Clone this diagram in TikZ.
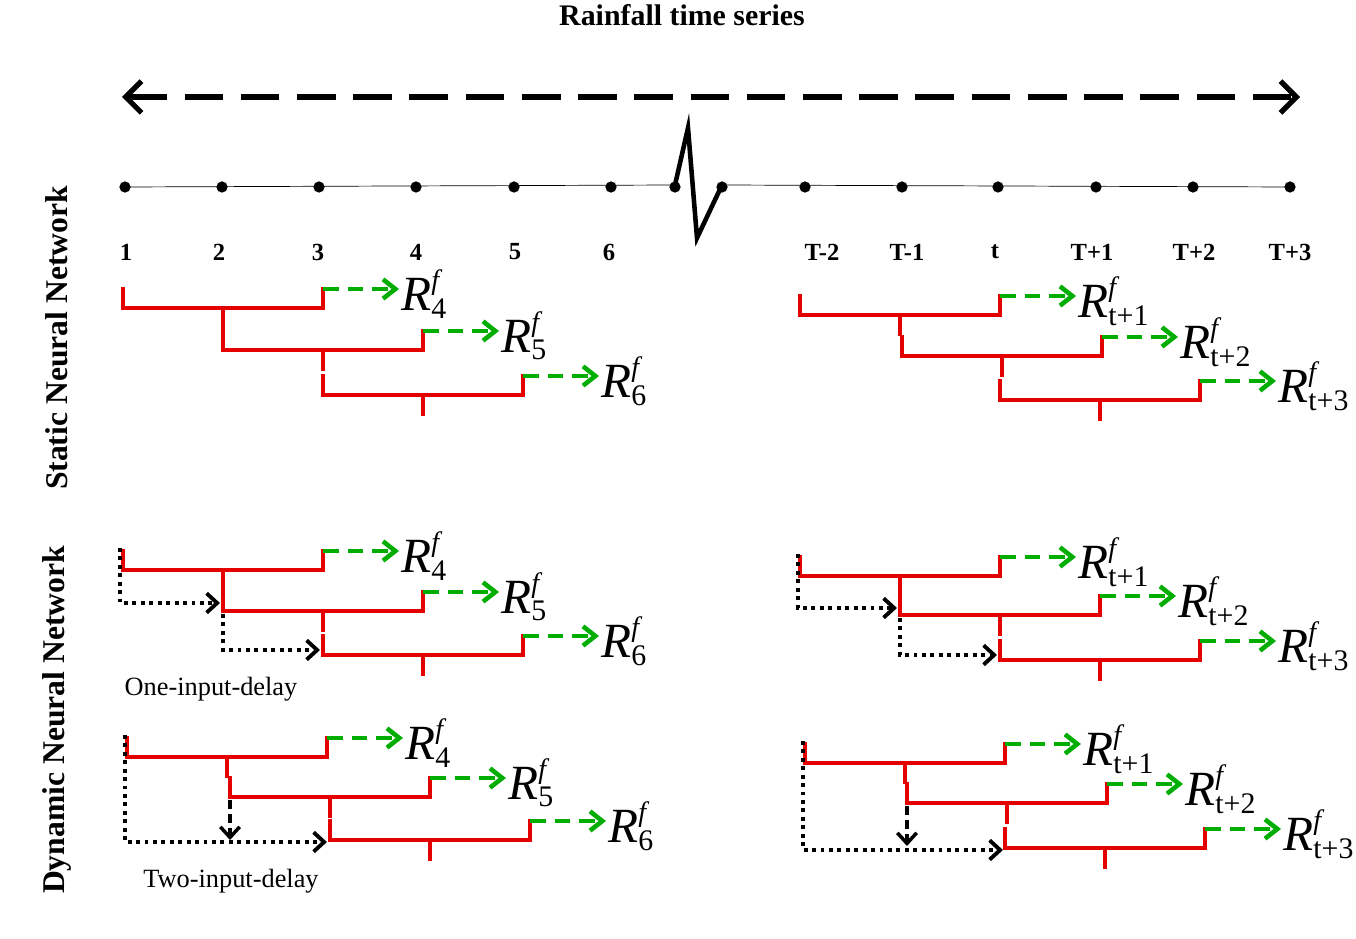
\documentclass[tikz,border=0pt]{standalone}
\usepackage{fontspec}
\setmainfont{Liberation Serif}
\usetikzlibrary{arrows.meta}
\begin{document}
\begin{tikzpicture}[x=0.02cm,y=-0.02cm,
  brc/.style={red!90!black,line width=2.2pt},
  grn/.style={green!60!black!80!green,line width=2.6pt,dash pattern=on 9pt off 5pt,-{Straight Barb[length=7pt,width=11pt]}},
  dot/.style={black,line width=2.2pt,dash pattern=on 2.2pt off 2.6pt,-{Straight Barb[length=6pt,width=11pt]}},
  lab/.style={font=\bfseries\fontsize{14}{14}\selectfont},
  rl/.style={font=\fontsize{28}{28}\selectfont,anchor=west,inner sep=0pt},
  side/.style={font=\bfseries\fontsize{18}{18}\selectfont,rotate=90}]
\newcommand\rr[1]{\textit{R}$^{\hbox{\fontsize{16}{16}\selectfont\textit{f}}}_{\hbox{\fontsize{17}{17}\selectfont #1}}$}
\useasboundingbox (0,0) rectangle (1356,939);
\node[font=\bfseries\fontsize{17}{17}\selectfont] (title) at (682,15) {Rainfall time series};
\draw[line width=3pt,dash pattern=on 22pt off 10pt,{Straight Barb[length=9pt,width=18pt]}-{Straight Barb[length=9pt,width=18pt]}] (122,97) -- (1300,97);
\draw[thin] (125,187) -- (675,185);
\draw[line width=2.6pt] (675,185) -- (688,128) -- (697,238) -- (722,185);
\draw[thin] (722,185) -- (1290,187);
\foreach \x in {125,222,319,416,514,611,675,722,805,902,998,1096,1193,1290}
  \fill (\x,187) circle (3.2pt);
\foreach \x/\t in {126/1,219/2,318/3,416/4,515/5,609/6,822/T-2,907/T-1,995/t,1092/T+1,1194/T+2,1290/T+3}
  \node[lab] at (\x,252) {\t};
\node[side] (s1) at (57,338) {Static Neural Network};
\node[side] (s2) at (57,720) {Dynamic Neural Network};
\newcommand\mybrace[3]{% L y label
  \draw[brc] (#1,#2-21) -- (#1,#2) -- (#1+200,#2) -- (#1+200,#2-21);
  \draw[brc] (#1+100,#2) -- (#1+100,#2+21);
  \draw[grn] (#1+200,#2-19) -- (#1+276,#2-19);
  \node[rl] at (#1+278,#2-14) {\rr{#3}};}
\mybrace{123}{308}{4}
\mybrace{223}{350}{5}
\mybrace{323}{395}{6}
\mybrace{800}{315}{t+1}
\mybrace{902}{356}{t+2}
\mybrace{1000}{400}{t+3}
\mybrace{123}{570}{4}
\mybrace{223}{611}{5}
\mybrace{323}{655}{6}
\mybrace{800}{576}{t+1}
\mybrace{900}{615}{t+2}
\mybrace{1000}{660}{t+3}
\mybrace{127}{757}{4}
\mybrace{230}{797}{5}
\mybrace{330}{840}{6}
\mybrace{805}{763}{t+1}
\mybrace{907}{803}{t+2}
\mybrace{1005}{848}{t+3}
\draw[dot] (120,548) -- (120,603) -- (220,603);
\draw[dot] (223,614) -- (223,650) -- (320,650);
\draw[dot] (798,554) -- (798,608) -- (897,608);
\draw[dot] (900,618) -- (900,655) -- (997,655);
\draw[dot] (125,735) -- (125,842) -- (327,842);
\draw[dot] (803,741) -- (803,850) -- (1003,850);
\draw[line width=2pt,dash pattern=on 5pt off 3pt,-{Straight Barb[length=6pt,width=11pt]}] (230,800) -- (230,840);
\draw[line width=2pt,dash pattern=on 5pt off 3pt,-{Straight Barb[length=6pt,width=11pt]}] (907,806) -- (907,846);
\node[font=\fontsize{15}{15}\selectfont] (d1) at (211,689) {One-input-delay};
\node[font=\fontsize{15}{15}\selectfont] (d2) at (231,881) {Two-input-delay};
\end{tikzpicture}
\end{document}
